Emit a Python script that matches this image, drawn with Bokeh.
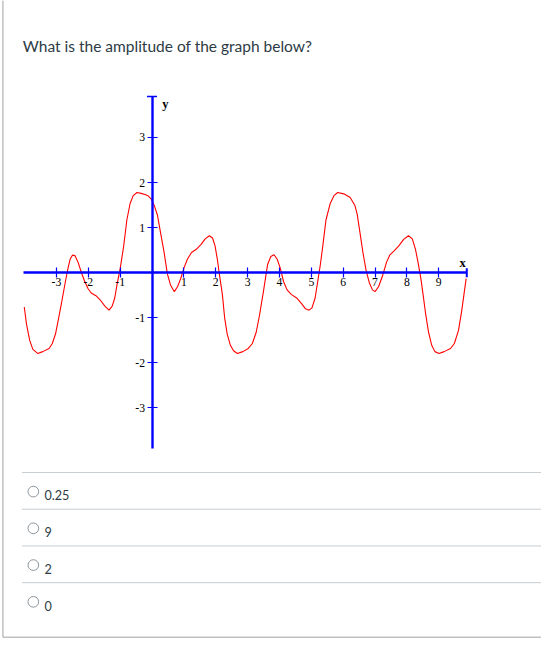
from bokeh.plotting import figure
from bokeh.models import Range1d, LinearAxis, FixedTicker, Label, Arrow, TeeHead
from bokeh.core.properties import value
from bokeh.embed import file_html
from bokeh.resources import INLINE

# ---------------- data ----------------
question = "What is the amplitude of the graph below?"
choices = ["0.25", "9", "2", "0"]

x_ticks = [-3, -2, -1, 1, 2, 3, 4, 5, 6, 7, 8, 9]
x_tick_labels = ["-3", "-2", "-1", "1", "2", "3", "4", "5", "6", "7", "8", "9"]
y_ticks = [-3, -2, -1, 1, 2, 3]
y_tick_labels = ["-3", "-2", "-1", "1", "2", "3"]

x_axis_extent = [-4.02, 9.88]
y_axis_extent = [-3.90, 3.91]

curve_x = [-4.01, -3.94, -3.84, -3.74, -3.59, -3.43, -3.23, -3.13, -3.03, -2.93,
           -2.83, -2.72, -2.64, -2.57, -2.50, -2.42, -2.32, -2.22, -2.11, -2.01,
           -1.91, -1.76, -1.63, -1.48, -1.35, -1.25, -1.17, -1.10, -1.00, -0.89,
           -0.79, -0.69, -0.59, -0.47, -0.34, -0.20, -0.13, -0.03, 0.07, 0.17,
           0.27, 0.38, 0.48, 0.58, 0.70, 0.80, 0.90, 1.01, 1.11, 1.24,
           1.39, 1.54, 1.67, 1.80, 1.90, 1.98, 2.05, 2.12, 2.21, 2.28,
           2.36, 2.46, 2.56, 2.68, 2.85, 3.02, 3.15, 3.27, 3.37, 3.48,
           3.56, 3.63, 3.73, 3.83, 3.93, 4.03, 4.13, 4.24, 4.37, 4.54,
           4.70, 4.82, 4.93, 5.02, 5.12, 5.20, 5.28, 5.36, 5.46, 5.59,
           5.71, 5.83, 6.02, 6.22, 6.37, 6.44, 6.53, 6.62, 6.72, 6.82,
           6.92, 7.00, 7.11, 7.24, 7.36, 7.46, 7.59, 7.74, 7.90, 8.05,
           8.17, 8.27, 8.35, 8.44, 8.51, 8.59, 8.68, 8.78, 8.88, 9.01,
           9.17, 9.37, 9.49, 9.62, 9.72, 9.79, 9.86]
curve_y = [-0.76, -1.14, -1.50, -1.70, -1.79, -1.75, -1.68, -1.57, -1.36, -1.00,
           -0.63, -0.20, 0.09, 0.30, 0.39, 0.38, 0.23, 0.01, -0.20, -0.35,
           -0.45, -0.51, -0.60, -0.74, -0.83, -0.74, -0.56, -0.27, 0.09, 0.59,
           1.17, 1.53, 1.71, 1.78, 1.76, 1.73, 1.71, 1.64, 1.49, 1.28,
           0.88, 0.45, -0.02, -0.27, -0.42, -0.31, -0.13, 0.12, 0.30, 0.45,
           0.52, 0.63, 0.75, 0.82, 0.77, 0.59, 0.30, -0.06, -0.49, -1.00,
           -1.36, -1.61, -1.73, -1.79, -1.75, -1.68, -1.57, -1.32, -0.96, -0.49,
           -0.13, 0.19, 0.36, 0.40, 0.30, 0.09, -0.20, -0.38, -0.48, -0.56,
           -0.69, -0.80, -0.83, -0.78, -0.56, -0.20, 0.16, 0.59, 1.17, 1.53,
           1.71, 1.78, 1.75, 1.67, 1.49, 1.30, 0.88, 0.45, 0.05, -0.22,
           -0.38, -0.42, -0.31, -0.06, 0.23, 0.39, 0.48, 0.59, 0.74, 0.82,
           0.75, 0.52, 0.23, -0.13, -0.49, -0.92, -1.32, -1.61, -1.75, -1.79,
           -1.75, -1.68, -1.57, -1.28, -0.85, -0.49, -0.13]

# ---------------- layout constants ----------------
W, H = 541, 644            # figure size (fits the 557x660 window with 8px margin)
REF_W, REF_H = 557, 660    # layout coordinates used below (pixels of the card)
OX, OY = 156.0, 279.0      # card position of the graph origin
SX, SY = 32.8, 46.2        # card pixels per unit
K = W / REF_W              # font scale
TEXT_COLOR = "#2D3B45"
AXIS_BLUE = "#0000FF"


def fs(px):
    return "%.1fpx" % (px * K)


p = figure(width=W, height=H,
           x_range=Range1d(-OX / SX, (REF_W - OX) / SX),
           y_range=Range1d((OY - REF_H) / SY, OY / SY),
           x_axis_type=None, y_axis_type=None,
           output_backend="svg", toolbar_location=None,
           min_border=0, outline_line_color=None,
           background_fill_color="white", border_fill_color="white")
p.extra_x_ranges = {"px": Range1d(0, REF_W)}
p.extra_y_ranges = {"py": Range1d(REF_H, 0)}

# ---------------- axes through the origin ----------------
serif = "Liberation Serif"
common = dict(axis_line_color=AXIS_BLUE, axis_line_width=2.4,
              major_tick_line_color=AXIS_BLUE, major_tick_line_width=1.2,
              major_tick_in=5, major_tick_out=5,
              minor_tick_line_color=None,
              major_label_text_font=serif,
              major_label_text_font_size=fs(12),
              major_label_text_color="black")
xaxis = LinearAxis(fixed_location=0, bounds=tuple(x_axis_extent),
                   ticker=FixedTicker(ticks=x_ticks),
                   major_label_overrides=dict(zip(x_ticks, x_tick_labels)),
                   major_label_standoff=0, **common)
p.add_layout(xaxis, "below")

yaxis = LinearAxis(fixed_location=0, bounds=tuple(y_axis_extent),
                   ticker=FixedTicker(ticks=y_ticks),
                   major_label_overrides=dict(zip(y_ticks, y_tick_labels)),
                   major_label_standoff=2, **common)
p.add_layout(yaxis, "left")

# end caps of the axes
p.add_layout(Arrow(end=TeeHead(size=9, line_color=AXIS_BLUE, line_width=2),
                   x_start=9.0, y_start=0, x_end=x_axis_extent[1], y_end=0,
                   line_alpha=0))
p.add_layout(Arrow(end=TeeHead(size=10, line_color=AXIS_BLUE, line_width=1.5),
                   x_start=0, y_start=3.0, x_end=0, y_end=y_axis_extent[1],
                   line_alpha=0))

# axis names
p.add_layout(Label(x=166.5, y=106.3, x_range_name="px", y_range_name="py",
                   text="y", text_font=serif, text_font_style="bold",
                   text_font_size=fs(13), text_color="black",
                   text_baseline="alphabetic"))
p.add_layout(Label(x=472.5, y=268.7, x_range_name="px", y_range_name="py",
                   text="x", text_font=serif, text_font_style="bold",
                   text_font_size=fs(13), text_color="black",
                   text_baseline="alphabetic"))

# ---------------- the curve ----------------
p.line(curve_x, curve_y, line_color="red", line_width=1.1)

# ---------------- question card ----------------
p.add_layout(Label(x=23, y=46.3, x_range_name="px", y_range_name="py",
                   text=question, text_font="Lato", text_font_size=fs(16),
                   text_color=TEXT_COLOR, text_baseline="alphabetic"))

CHOICE_Y0, CHOICE_STEP = 503.3, 37.65
choice_y = [CHOICE_Y0 + i * CHOICE_STEP for i in range(len(choices))]
sep_y = [cy - 19.6 for cy in choice_y]

p.segment(x0=[22] * len(sep_y), x1=[REF_W + 5] * len(sep_y), y0=sep_y, y1=sep_y,
          x_range_name="px", y_range_name="py",
          line_color="#C7CDD1", line_width=1)
p.scatter(x=[33.8] * len(choices), y=choice_y, size=11 * K, marker="circle",
          fill_color="white", line_color="#8C959C", line_width=1,
          x_range_name="px", y_range_name="py")
p.text(x=[45.3] * len(choices), y=[cy + 3.9 for cy in choice_y], text=choices,
       text_font=value("Lato"), text_font_size=fs(13), text_color=TEXT_COLOR,
       text_baseline="alphabetic", text_align="left",
       x_range_name="px", y_range_name="py")

# card border (left and bottom edges)
p.segment(x0=[2.5, 2.5], y0=[0, 652.5], x1=[2.5, REF_W + 5], y1=[652.5, 652.5],
          x_range_name="px", y_range_name="py",
          line_color="#A0A0A0", line_width=1)

open("out.html", "w").write(file_html(p, INLINE))
